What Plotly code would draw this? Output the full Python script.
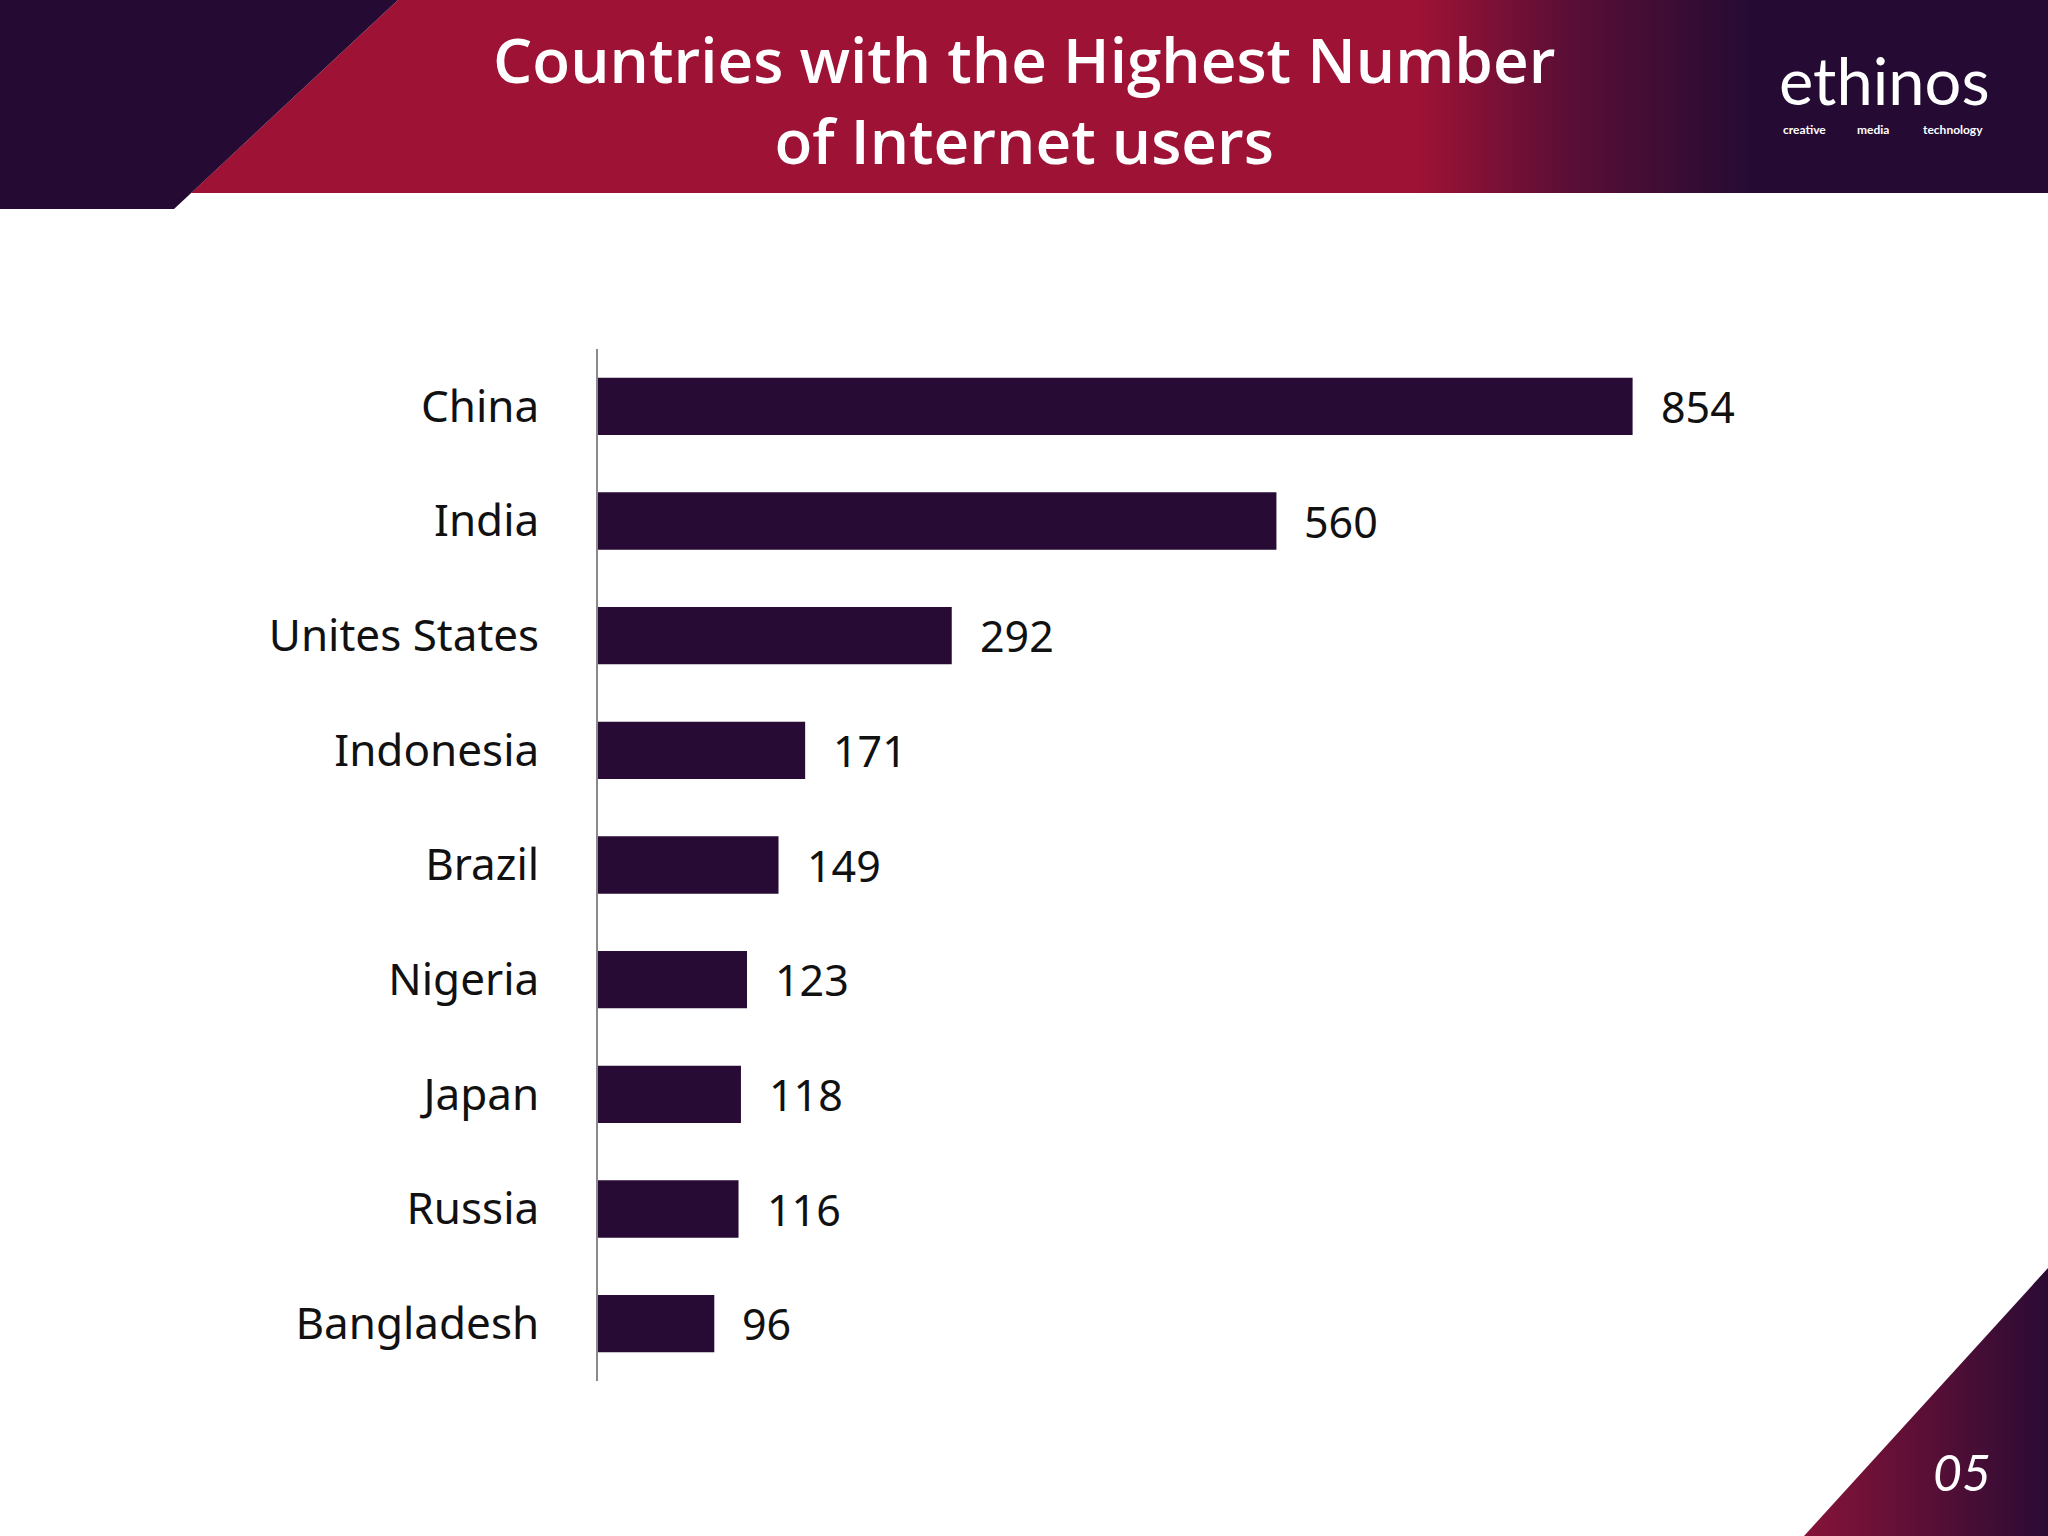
import plotly.graph_objects as go

# ---- data ----
countries = ["China", "India", "Unites States", "Indonesia", "Brazil",
             "Nigeria", "Japan", "Russia", "Bangladesh"]
users_millions = [854, 560, 292, 171, 149, 123, 118, 116, 96]

title_lines = ["Countries with the Highest Number", "of Internet users"]
page_number = "05"

W, H = 2048, 1536
BAR = "#270B35"
RED = "#9D1235"
DARK = "#250B33"

def px_x(p):
    return p / W

def px_y(p):
    return 1 - p / H

fig = go.Figure()

fig.add_trace(go.Bar(
    x=users_millions, y=countries, orientation="h",
    marker=dict(color=BAR, line=dict(width=0)),
    width=0.5, hoverinfo="skip", showlegend=False,
    xaxis="x", yaxis="y",
))

# decorative overlay on a full-page pixel axis
deco_x = dict(xaxis="x2", yaxis="y2")
fig.add_trace(go.Scatter(
    x=[398, 2048, 2048, 191, 398], y=[0, 0, 193, 193, 0],
    fill="toself", mode="lines", line=dict(width=0),
    fillgradient=dict(type="horizontal", start=0, stop=2048,
                      colorscale=[[0, RED], [1420 / 2048, RED],
                                  [1570 / 2048, "#5A0E36"],
                                  [1750 / 2048, DARK], [1, DARK]]),
    hoverinfo="skip", showlegend=False, **deco_x))
fig.add_trace(go.Scatter(
    x=[0, 398, 174, 0, 0], y=[0, 0, 209, 209, 0],
    fill="toself", mode="lines", line=dict(width=0), fillcolor=DARK,
    hoverinfo="skip", showlegend=False, **deco_x))
fig.add_trace(go.Scatter(
    x=[2048, 2048, 1804, 2048], y=[1268, 1536, 1536, 1268],
    fill="toself", mode="lines", line=dict(width=0),
    fillgradient=dict(type="horizontal", start=1804, stop=2048,
                      colorscale=[[0, "#861338"], [0.5, "#5A0F36"], [1, "#2A0B34"]]),
    hoverinfo="skip", showlegend=False, **deco_x))

annotations = []
for c, v in zip(countries, users_millions):
    annotations.append(dict(
        x=v, y=c, xref="x", yref="y", text=str(v), showarrow=False,
        xanchor="left", yanchor="middle", xshift=26,
        font=dict(family="Noto Sans", size=43, color="#111111")))

annotations.append(dict(
    x=0.5, y=px_y(99), xref="paper", yref="paper", text="<br>".join(title_lines),
    showarrow=False, xanchor="center", yanchor="middle", align="center",
    font=dict(family="Open Sans", size=62, color="white", weight=600)))
annotations.append(dict(
    x=px_x(1884), y=px_y(80), xref="paper", yref="paper", text="ethinos",
    showarrow=False, xanchor="center", yanchor="middle",
    font=dict(family="Lato", size=65, color="white")))
for word, cx in [("creative", 1804), ("media", 1873), ("technology", 1953)]:
    annotations.append(dict(
        x=px_x(cx), y=px_y(129), xref="paper", yref="paper", text=word,
        showarrow=False, xanchor="center", yanchor="middle",
        font=dict(family="Lato", size=12, color="white", weight=700)))
annotations.append(dict(
    x=px_x(1962), y=px_y(1472), xref="paper", yref="paper", text=page_number,
    showarrow=False, xanchor="center", yanchor="middle",
    font=dict(family="Lato", size=50, color="white", style="italic")))

plot_left, plot_right = 598, 1840
px_per_unit = (1632.6 - 598) / 854
x_max = (plot_right - plot_left) / px_per_unit

fig.update_layout(
    width=W, height=H,
    margin=dict(l=0, r=0, t=0, b=0),
    paper_bgcolor="white", plot_bgcolor="rgba(0,0,0,0)",
    showlegend=False,
    bargap=0.5,
    xaxis=dict(domain=[px_x(plot_left), px_x(plot_right)], range=[0, x_max],
               visible=False, fixedrange=True),
    yaxis=dict(domain=[px_y(1381), px_y(349)], range=[8.5, -0.5],
               type="category", categoryorder="array", categoryarray=countries,
               showline=True, linecolor="#8a8a8a", linewidth=2,
               ticks="", showgrid=False, zeroline=False,
               ticklabelstandoff=48, automargin=False,
               tickfont=dict(family="Noto Sans", size=44, color="#111111")),
    xaxis2=dict(domain=[0, 1], range=[0, W], visible=False, anchor="y2",
                fixedrange=True),
    yaxis2=dict(domain=[0, 1], range=[H, 0], visible=False, anchor="x2",
                fixedrange=True),
    annotations=annotations,
)

fig.write_html("out.html")
